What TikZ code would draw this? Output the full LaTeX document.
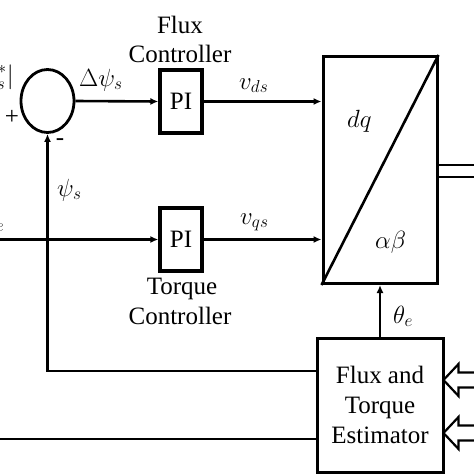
\documentclass[tikz,border=0pt]{standalone}
\usepackage{fontspec}
\setmainfont{Liberation Serif}
\usetikzlibrary{arrows.meta,shapes.geometric,calc}
\begin{document}
\begin{tikzpicture}[x=1pt,y=-1pt,
  conn/.style={line width=2.6pt},
  hollow/.style={line width=2.2pt,line join=miter},
  arr/.style={conn,-{Latex[length=8pt,width=7pt]}},
  blk/.style={draw,line width=3.3pt,inner sep=0pt},
  bigblk/.style={draw,line width=3pt,inner sep=0pt},
  lbl/.style={inner sep=0pt,font=\fontsize{25}{30}\selectfont},
  mlbl/.style={inner sep=0pt,font=\fontsize{24.5}{29}\selectfont}]
\useasboundingbox (0,0) rectangle (474,474);
\clip (0,0) rectangle (474,474);
\fill[white] (0,0) rectangle (474,474);

% blocks
\node[draw,ellipse,line width=2.8pt,inner sep=0pt,minimum width=53pt,minimum height=63pt] (sum) at (47.5,101) {};
\node[blk,lbl,minimum width=42pt,minimum height=63pt] (pi1) at (181,101.5) {PI};
\node[blk,lbl,minimum width=42pt,minimum height=63pt] (pi2) at (181,239.5) {PI};
\node[bigblk,minimum width=114pt,minimum height=227pt] (tr) at (380,170) {};
\draw[conn] (tr.south west) -- (tr.north east);
\node[bigblk,lbl,align=center,minimum width=126pt,minimum height=134pt] (est) at (380,405) {Flux and\\Torque\\Estimator};

% coordinates
\coordinate (in1) at (0,239.5);
\coordinate (in2) at (0,439);
\coordinate (fb) at (47.5,371);
\coordinate (o1) at (474,165);
\coordinate (o2) at (474,177);
\coordinate (h1) at (443.5,380);
\coordinate (h2) at (443.5,433);

% connectors
\draw[arr] (sum.east) -- (pi1.west);
\draw[arr] (pi1.east) -- (pi1.east -| tr.west);
\draw[arr] (in1) -- (pi2.west);
\draw[arr] (pi2.east) -- (pi2.east -| tr.west);
\draw[arr] (est.west |- fb) -- (fb) -- (sum.south);
\draw[conn] (in2) -- (in2 -| est.west);
\draw[arr] (est.north) -- (tr.south);
\draw[conn] (o1 -| tr.east) -- (o1);
\draw[conn] (o2 -| tr.east) -- (o2);
\draw[hollow,shift={(h1)}] (31,-7.5) -- (15,-7.5) -- (15,-16) -- (0,0) -- (15,16) -- (15,7.5) -- (31,7.5);
\draw[hollow,shift={(h2)}] (31,-7.5) -- (15,-7.5) -- (15,-16) -- (0,0) -- (15,16) -- (15,7.5) -- (31,7.5);

% text labels
\node[lbl,anchor=base] (fl1) at (180,33) {Flux};
\node[lbl,anchor=base] (fl2) at (180,62) {Controller};
\node[lbl,anchor=base] (tq1) at (182,294) {Torque};
\node[lbl,anchor=base] (tq2) at (180,324) {Controller};

% math labels
\node[mlbl,anchor=base west] (dpsi) at (79,86) {$\Delta\psi_s$};
\node[mlbl,anchor=base west] (vds) at (239,89) {$v_{ds}$};
\node[mlbl,anchor=base west] (vqs) at (240,224) {$v_{qs}$};
\node[mlbl,anchor=base west] (dq) at (347,127) {$dq$};
\node[mlbl,anchor=base west] (ab) at (375,248) {$\alpha\beta$};
\node[mlbl,anchor=base west] (th) at (393,323) {$\theta_e$};
\node[mlbl,anchor=base west] (psi) at (57,196) {$\psi_s$};
\node[mlbl,anchor=base east] (psiref) at (14,83) {$|\psi_s^*|$};
\node[mlbl,anchor=base east] (te) at (4.5,228) {$T_e$};
\node[lbl] (plus) at (12,117) {+};
\node[lbl] (minus) at (60,142) {-};
\end{tikzpicture}
\end{document}
